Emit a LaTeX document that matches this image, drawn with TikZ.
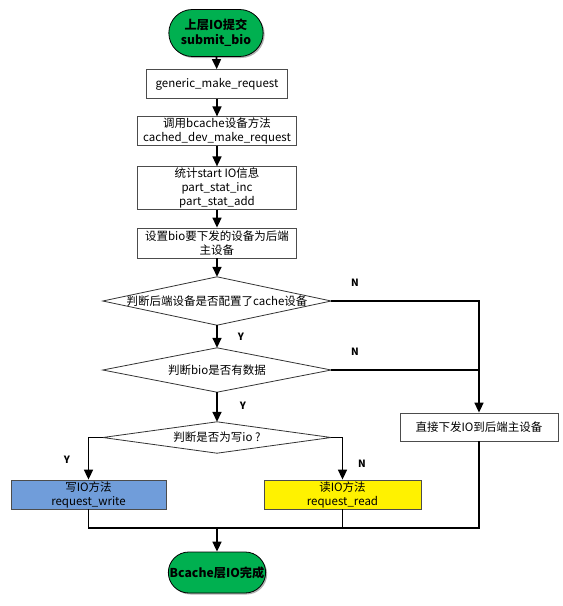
\documentclass[tikz,border=0pt]{standalone}
\usepackage{fontspec}
\setmainfont{Noto Sans CJK SC}
\usetikzlibrary{arrows.meta,shapes.misc,shadows}

\definecolor{termgreen}{RGB}{0,176,80}
\definecolor{writeblue}{RGB}{112,157,218}

\tikzset{
  box/.style={draw=black!70, line width=0.8pt, fill=white, align=center, inner sep=1pt,
    font=\fontsize{11.5}{14}\selectfont},
  decide/.style={minimum height=#1, minimum width=228pt, inner sep=0pt, align=center,
    font=\fontsize{11.5}{14}\selectfont},
  term/.style={rounded rectangle, draw=black, line width=0.8pt, fill=termgreen, align=center,
    font=\fontsize{12.2}{15}\selectfont\bfseries,
    general shadow={fill=black!30, shadow xshift=1.5pt, shadow yshift=-1.5pt}},
  flow/.style={line width=1.6pt, -{Triangle[length=10pt,width=9pt]}},
  link/.style={line width=1.6pt},
  yn/.style={font=\fontsize{10}{12}\selectfont\bfseries},
}

\begin{document}
\begin{tikzpicture}[x=1pt, y=-1pt]
  \useasboundingbox (0,0) rectangle (563,606);

  \node[term, minimum width=101pt, minimum height=47pt] (start) at (216,33) {上层IO提交\\submit\_bio};
  \node[box, minimum width=141pt, minimum height=29pt] (gen) at (217,84) {generic\_make\_request};
  \node[box, minimum width=159pt, minimum height=28pt] (cdm) at (217,131) {调用bcache设备方法\\cached\_dev\_make\_request};
  \node[box, minimum width=159pt, minimum height=41pt] (stat) at (217,188) {统计start IO信息\\part\_stat\_inc\\part\_stat\_add};
  \node[box, minimum width=159pt, minimum height=30pt] (setdev) at (217,243) {设置bio要下发的设备为后端\\主设备};
  \node[decide=48pt] (d1) at (217,301) {判断后端设备是否配置了cache设备};
  \node[decide=44pt] (d2) at (217,370) {判断bio是否有数据};
  \node[decide=31pt] (d3) at (217,437.5) {判断是否为写io ?};
  \node[box, minimum width=158pt, minimum height=28pt] (direct) at (479,427) {直接下发IO到后端主设备};
  \node[box, fill=writeblue, minimum width=155pt, minimum height=29pt] (wr) at (88.5,494.5) {写IO方法\\request\_write};
  \node[box, fill=yellow, minimum width=157pt, minimum height=29pt] (rd) at (342.5,494.5) {读IO方法\\request\_read};
  \node[term, minimum width=104pt, minimum height=41pt] (done) at (217,572.5) {Bcache层IO完成};
  \coordinate (m) at (217,528);

  \foreach \d in {d1,d2,d3}
    \draw[black!80, line width=0.8pt] (\d.north) -- (\d.east) -- (\d.south) -- (\d.west) -- cycle;

  \draw[flow] (start) -- (gen);
  \draw[flow] (gen) -- (cdm);
  \draw[flow] (cdm) -- (stat);
  \draw[flow] (stat) -- (setdev);
  \draw[flow] (setdev) -- (d1.north);
  \draw[flow] (d1.south) -- (d2.north);
  \draw[flow] (d2.south) -- (d3.north);
  \draw[flow] (d1.east) -| (direct.north);
  \draw[link] (d2.east) -- (direct.north |- d2.east);
  \draw[flow] (d3.west) -| (wr.north);
  \draw[flow] (d3.east) -| (rd.north);
  \draw[link] (wr.south) |- (m);
  \draw[link] (rd.south) |- (m);
  \draw[link] (direct.south) |- (m);
  \draw[flow] (m) -- (done.north);

  \node[yn] at (355,283) {N};
  \node[yn] at (241,337) {Y};
  \node[yn] at (355,352) {N};
  \node[yn] at (243,406) {Y};
  \node[yn] at (67,460) {Y};
  \node[yn] at (362,464) {N};
\end{tikzpicture}
\end{document}
